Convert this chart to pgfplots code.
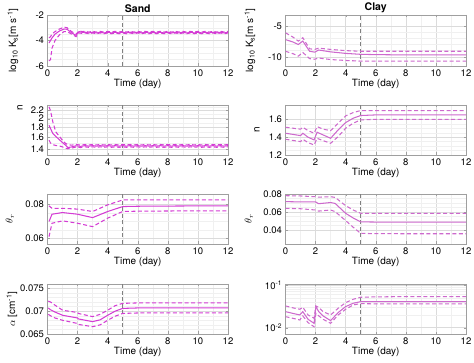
\documentclass[border=0pt]{standalone}
\usepackage{fontspec}
\setmainfont{TeX Gyre Heros}
\usepackage{pgfplots}
\pgfplotsset{compat=1.18}
\usepackage{pgfplotstable}
\usetikzlibrary{calc}
\definecolor{sandc}{RGB}{212,60,212}
\definecolor{clayc}{RGB}{205,105,205}

\pgfplotsset{
  panel/.style={
    scale only axis, width=180.5pt, height=50pt,
    xmin=0, xmax=12, xtick={0,2,...,12},
    tick align=inside, major tick length=2.5pt, minor tick length=0pt,
    grid=both,
    major grid style={gray!28, line width=0.35pt},
    minor grid style={gray!12, line width=0.3pt},
    minor x tick num=1,
    axis line style={gray!75}, tick style={gray!75},
    every tick label/.append style={font=\fontsize{9.5}{10}\selectfont},
    label style={font=\fontsize{10}{11}\selectfont},
    xlabel={Time (day)},
    xlabel style={yshift=4pt},
    every axis title shift=0pt,
    title style={font=\fontsize{10.5}{12}\selectfont\bfseries, at={(0.5,1)}, anchor=south, yshift=-1pt},
    scaled y ticks=false,
    /pgf/number format/assume math mode=true,
    anchor=south west,
  },
  ylab/.style={ylabel style={at={($(rel axis cs:0,0.5)+(-#1,0)$)}, anchor=center}},
  mn/.style={line width=1.05pt},
  dsh/.style={line width=1.05pt, dash pattern=on 4pt off 2.5pt},
  vline/.style={gray, line width=0.9pt, dash pattern=on 4pt off 2.5pt, forget plot},
}

\pgfplotstableread{
t lo m up
0.1 -5.6 -4.2 -3.8
0.2 -5.5 -4.0 -3.7
0.3 -4.6 -3.8 -3.5
0.5 -4.0 -3.5 -3.3
0.8 -3.55 -3.25 -3.1
1.1 -3.3 -3.1 -2.95
1.3 -3.3 -3.12 -3.0
1.6 -3.5 -3.4 -3.3
1.9 -3.7 -3.6 -3.5
2.1 -3.4 -3.3 -3.25
2.3 -3.45 -3.36 -3.3
2.50 -3.41 -3.35 -3.28
2.75 -3.47 -3.41 -3.34
3.00 -3.41 -3.35 -3.28
3.25 -3.47 -3.41 -3.34
3.50 -3.41 -3.35 -3.28
3.75 -3.47 -3.41 -3.34
4.00 -3.41 -3.35 -3.28
4.25 -3.47 -3.41 -3.34
4.50 -3.41 -3.35 -3.28
4.75 -3.47 -3.41 -3.34
5.00 -3.41 -3.35 -3.28
5.25 -3.47 -3.41 -3.34
5.50 -3.41 -3.35 -3.28
5.75 -3.47 -3.41 -3.34
6.00 -3.41 -3.35 -3.28
6.25 -3.47 -3.41 -3.34
6.50 -3.41 -3.35 -3.28
6.75 -3.47 -3.41 -3.34
7.00 -3.41 -3.35 -3.28
7.25 -3.47 -3.41 -3.34
7.50 -3.41 -3.35 -3.28
7.75 -3.47 -3.41 -3.34
8.00 -3.41 -3.35 -3.28
8.25 -3.47 -3.41 -3.34
8.50 -3.41 -3.35 -3.28
8.75 -3.47 -3.41 -3.34
9.00 -3.41 -3.35 -3.28
9.25 -3.47 -3.41 -3.34
9.50 -3.41 -3.35 -3.28
9.75 -3.47 -3.41 -3.34
10.00 -3.41 -3.35 -3.28
10.25 -3.47 -3.41 -3.34
10.50 -3.41 -3.35 -3.28
10.75 -3.47 -3.41 -3.34
11.00 -3.41 -3.35 -3.28
11.25 -3.47 -3.41 -3.34
11.50 -3.41 -3.35 -3.28
11.75 -3.47 -3.41 -3.34
12.00 -3.41 -3.35 -3.28
}\sandKs

\pgfplotstableread{
t lo m up
0.1 1.55 1.85 2.30
0.2 1.50 1.78 2.20
0.35 1.47 1.68 1.93
0.55 1.455 1.62 1.71
0.9 1.44 1.53 1.58
1.2 1.41 1.46 1.49
1.35 1.40 1.42 1.47
1.6 1.41 1.43 1.46
1.9 1.43 1.45 1.475
2.2 1.42 1.44 1.46
2.50 1.432 1.452 1.472
2.75 1.424 1.444 1.464
3.00 1.432 1.452 1.472
3.25 1.424 1.444 1.464
3.50 1.432 1.452 1.472
3.75 1.424 1.444 1.464
4.00 1.432 1.452 1.472
4.25 1.424 1.444 1.464
4.50 1.432 1.452 1.472
4.75 1.424 1.444 1.464
5.00 1.432 1.452 1.472
5.25 1.424 1.444 1.464
5.50 1.432 1.452 1.472
5.75 1.424 1.444 1.464
6.00 1.432 1.452 1.472
6.25 1.424 1.444 1.464
6.50 1.432 1.452 1.472
6.75 1.424 1.444 1.464
7.00 1.432 1.452 1.472
7.25 1.424 1.444 1.464
7.50 1.432 1.452 1.472
7.75 1.424 1.444 1.464
8.00 1.432 1.452 1.472
8.25 1.424 1.444 1.464
8.50 1.432 1.452 1.472
8.75 1.424 1.444 1.464
9.00 1.432 1.452 1.472
9.25 1.424 1.444 1.464
9.50 1.432 1.452 1.472
9.75 1.424 1.444 1.464
10.00 1.432 1.452 1.472
10.25 1.424 1.444 1.464
10.50 1.432 1.452 1.472
10.75 1.424 1.444 1.464
11.00 1.432 1.452 1.472
11.25 1.424 1.444 1.464
11.50 1.432 1.452 1.472
11.75 1.424 1.444 1.464
12.00 1.432 1.452 1.472
}\sandN

\pgfplotstableread{
t lo m up
0.1 0.0609 0.0698 0.0790
0.3 0.0688 0.0741 0.0776
1.0 0.0702 0.0751 0.0776
2.0 0.0688 0.0741 0.0771
3.0 0.0668 0.0721 0.0757
4.0 0.0718 0.0757 0.0796
5.0 0.0757 0.0786 0.0825
6.0 0.0759 0.0788 0.0825
8.0 0.0760 0.0789 0.0825
10.0 0.0761 0.0790 0.0825
12.0 0.0761 0.0790 0.0825
}\sandTh

\pgfplotstableread{
t lo m up
0.05 0.0693 0.0707 0.0722
0.2 0.0690 0.0703 0.0720
0.5 0.0685 0.0698 0.0713
1.0 0.0680 0.0691 0.0702
2.0 0.0673 0.0685 0.0697
2.05 0.0671 0.0683 0.0695
3.0 0.0666 0.0677 0.0688
3.5 0.0670 0.0681 0.0693
4.0 0.0680 0.0691 0.0702
4.5 0.0689 0.0700 0.0712
5.0 0.0695 0.0706 0.0717
6.0 0.0696 0.0707 0.0718
8.0 0.0696 0.0707 0.0718
10.0 0.0696 0.0707 0.0718
12.0 0.0696 0.0707 0.0718
}\sandA

\pgfplotstableread{
t lo m up
0 -9.1 -7.2 -6.1
0.5 -9.5 -7.6 -6.8
0.85 -9.9 -8.0 -7.45
1.15 -9.3 -7.45 -6.9
1.6 -10.3 -9.1 -8.7
1.95 -10.4 -9.25 -8.8
2.2 -10.2 -8.9 -8.6
3 -10.45 -9.2 -8.8
4 -10.6 -9.45 -9.0
5 -10.7 -9.6 -9.1
6 -10.7 -9.65 -9.1
8 -10.7 -9.7 -9.1
10 -10.7 -9.7 -9.1
12 -10.7 -9.7 -9.1
}\clayKs

\pgfplotstableread{
t lo m up
0 1.376 1.444 1.511
1 1.350 1.417 1.489
1.15 1.376 1.444 1.511
1.5 1.339 1.399 1.473
1.9 1.312 1.369 1.444
2.1 1.387 1.455 1.518
2.5 1.361 1.425 1.489
3 1.331 1.387 1.473
3.5 1.406 1.481 1.556
4 1.500 1.563 1.638
4.5 1.556 1.612 1.675
5 1.593 1.642 1.698
6 1.600 1.649 1.698
8 1.600 1.649 1.698
10 1.600 1.649 1.698
12 1.600 1.649 1.698
}\clayN

\pgfplotstableread{
t lo m up
0 0.0641 0.0715 0.0781
1 0.0636 0.0712 0.0778
2 0.0622 0.0712 0.0770
2.2 0.0610 0.0692 0.0765
3 0.0622 0.0705 0.0770
3.3 0.0604 0.0695 0.0762
4 0.0504 0.0585 0.0670
4.5 0.0430 0.0533 0.0622
5 0.0362 0.0490 0.0585
6 0.0359 0.0488 0.0585
8 0.0358 0.0487 0.0585
10 0.0358 0.0487 0.0585
12 0.0358 0.0487 0.0585
}\clayTh

\pgfplotstableread{
t lo m up
0 0.0181 0.0237 0.0322
0.5 0.0165 0.0215 0.0290
0.95 0.0151 0.0198 0.0269
1.15 0.0188 0.0237 0.0300
1.5 0.0131 0.0157 0.0198
1.9 0.0105 0.0126 0.0166
2.02 0.0217 0.0311 0.0322
2.2 0.0190 0.0240 0.0300
2.5 0.0157 0.0188 0.0237
3 0.0126 0.0146 0.0198
3.5 0.0198 0.0225 0.0284
4 0.0269 0.0311 0.0385
4.5 0.0340 0.0372 0.0461
5 0.0365 0.0406 0.0514
6 0.0360 0.0406 0.0525
8 0.0359 0.0406 0.0532
10 0.0359 0.0406 0.0532
12 0.0359 0.0406 0.0532
}\clayA

\begin{document}
\begin{tikzpicture}
\useasboundingbox (0,0) rectangle (474pt,363pt);

% Sand Ks
\begin{axis}[panel, at={(47.5pt,297pt)}, height=51pt,
  ymin=-6, ymax=-2, ytick={-6,-4,-2}, minor y tick num=3,
  title={Sand},
  ylabel={log\textsubscript{10} K\textsubscript{s}[m s\textsuperscript{-1}]}, ylab=34.5pt]
\addplot[vline] coordinates {(5,-6) (5,-2)};
\addplot[sandc, dsh] table[x=t,y=lo]{\sandKs};
\addplot[sandc, mn] table[x=t,y=m]{\sandKs};
\addplot[sandc, dsh] table[x=t,y=up]{\sandKs};
\end{axis}

% Clay Ks
\begin{axis}[panel, at={(285.5pt,297pt)}, height=51pt,
  ymin=-11.5, ymax=-3.2, ytick={-10,-5}, minor y tick num=4,
  title={Clay},
  ylabel={log\textsubscript{10} K\textsubscript{s}[m s\textsuperscript{-1}]}, ylab=35.5pt]
\addplot[vline] coordinates {(5,-11.5) (5,-3.2)};
\addplot[clayc, dsh] table[x=t,y=lo]{\clayKs};
\addplot[clayc, mn] table[x=t,y=m]{\clayKs};
\addplot[clayc, dsh] table[x=t,y=up]{\clayKs};
\end{axis}

% Sand n
\begin{axis}[panel, at={(47.5pt,208pt)},
  ymode=log, ymin=1.3, ymax=2.35,
  ytick={1.4,1.6,1.8,2,2.2}, yticklabels={1.4,1.6,1.8,2,2.2},
  minor ytick={1.3,1.5,1.7,1.9,2.1,2.3},
  ylabel={n}, ylab=27.5pt]
\addplot[vline] coordinates {(5,1.3) (5,2.35)};
\addplot[sandc, dsh] table[x=t,y=lo]{\sandN};
\addplot[sandc, mn] table[x=t,y=m]{\sandN};
\addplot[sandc, dsh] table[x=t,y=up]{\sandN};
\end{axis}

% Clay n
\begin{axis}[panel, at={(285.5pt,208pt)},
  ymin=1.2, ymax=1.76, ytick={1.2,1.4,1.6}, yticklabels={1.2,1.4,1.6}, minor y tick num=3,
  ylabel={n}, ylab=28.5pt]
\addplot[vline] coordinates {(5,1.2) (5,1.76)};
\addplot[clayc, dsh] table[x=t,y=lo]{\clayN};
\addplot[clayc, mn] table[x=t,y=m]{\clayN};
\addplot[clayc, dsh] table[x=t,y=up]{\clayN};
\end{axis}

% Sand theta_r
\begin{axis}[panel, at={(47.5pt,119pt)},
  ymin=0.0566, ymax=0.086, ytick={0.06,0.08}, yticklabels={0.06,0.08}, minor y tick num=3,
  ylabel={$\theta_r$}, ylab=37.5pt]
\addplot[vline] coordinates {(5,0.0566) (5,0.086)};
\addplot[sandc, dsh] table[x=t,y=lo]{\sandTh};
\addplot[sandc, mn] table[x=t,y=m]{\sandTh};
\addplot[sandc, dsh] table[x=t,y=up]{\sandTh};
\end{axis}

% Clay theta_r
\begin{axis}[panel, at={(285.5pt,119pt)},
  ymin=0.0244, ymax=0.08, ytick={0.04,0.06,0.08}, yticklabels={0.04,0.06,0.08}, minor y tick num=3,
  ylabel={$\theta_r$}, ylab=36.5pt]
\addplot[vline] coordinates {(5,0.0244) (5,0.08)};
\addplot[clayc, dsh] table[x=t,y=lo]{\clayTh};
\addplot[clayc, mn] table[x=t,y=m]{\clayTh};
\addplot[clayc, dsh] table[x=t,y=up]{\clayTh};
\end{axis}

% Sand alpha
\begin{axis}[panel, at={(47.5pt,29pt)},
  ymin=0.065, ymax=0.07594, ytick={0.065,0.07,0.075}, yticklabels={0.065,0.07,0.075}, minor y tick num=4,
  ylabel={$\alpha$ [cm\textsuperscript{-1}]}, ylab=35.5pt]
\addplot[vline] coordinates {(5,0.065) (5,0.07594)};
\addplot[sandc, dsh] table[x=t,y=lo]{\sandA};
\addplot[sandc, mn] table[x=t,y=m]{\sandA};
\addplot[sandc, dsh] table[x=t,y=up]{\sandA};
\end{axis}

% Clay alpha
\begin{axis}[panel, at={(285.5pt,29pt)},
  ymode=log, ymin=0.0071, ymax=0.105,
  ytick={0.01,0.1}, yticklabels={10\textsuperscript{-2},10\textsuperscript{-1}},
  ylabel={$\alpha$ [cm\textsuperscript{-1}]}, ylab=36.5pt]
\addplot[vline] coordinates {(5,0.0071) (5,0.105)};
\addplot[clayc, dsh] table[x=t,y=lo]{\clayA};
\addplot[clayc, mn] table[x=t,y=m]{\clayA};
\addplot[clayc, dsh] table[x=t,y=up]{\clayA};
\end{axis}
\end{tikzpicture}
\end{document}
